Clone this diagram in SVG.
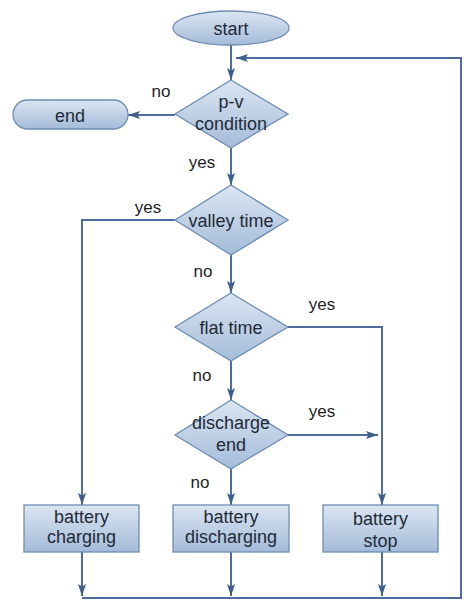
<svg xmlns="http://www.w3.org/2000/svg" width="474" height="611" viewBox="0 0 474 611">
  <defs>
    <linearGradient id="fillNode" x1="0" y1="0" x2="0" y2="1">
      <stop offset="0" stop-color="#dce6f2"/>
      <stop offset="1" stop-color="#a3bbd9"/>
    </linearGradient>
    <marker id="arrow" markerWidth="12" markerHeight="8" refX="12" refY="4" orient="auto" markerUnits="userSpaceOnUse">
      <path d="M0,0 L12,4 L0,8 L2.5,4 Z" fill="#3e5f8e"/>
    </marker>
  </defs>
  <style>
    .node { fill: url(#fillNode); stroke: #6f8db3; stroke-width: 1.3; }
    .txt { font-family: "Liberation Sans", Arial, sans-serif; font-size: 18px; fill: #222a38; text-anchor: middle; }
    .lbl { font-family: "Liberation Sans", Arial, sans-serif; font-size: 17px; fill: #1e1e1e; text-anchor: middle; }
    .wire { fill: none; stroke: #4f6d9c; stroke-width: 2; }
  </style>
  <rect width="474" height="611" fill="#ffffff"/>

  <!-- connectors -->
  <g id="connectors">
    <path class="wire" d="M231,45 V80" marker-end="url(#arrow)"/>
    <path class="wire" d="M175,115 H128" marker-end="url(#arrow)"/>
    <path class="wire" d="M231,148 V185" marker-end="url(#arrow)"/>
    <path class="wire" d="M175,220 H82 V505" marker-end="url(#arrow)"/>
    <path class="wire" d="M231,255 V293" marker-end="url(#arrow)"/>
    <path class="wire" d="M288,327 H382 V505" marker-end="url(#arrow)"/>
    <path class="wire" d="M231,361 V400" marker-end="url(#arrow)"/>
    <path class="wire" d="M288,435 H378" marker-end="url(#arrow)"/>
    <path class="wire" d="M231,469 V505" marker-end="url(#arrow)"/>
    <path class="wire" d="M82,552 V596" marker-end="url(#arrow)"/>
    <path class="wire" d="M231,552 V596" marker-end="url(#arrow)"/>
    <path class="wire" d="M382,552 V596" marker-end="url(#arrow)"/>
    <path class="wire" d="M82,598 H461 V58 H236" marker-end="url(#arrow)"/>
    <text class="lbl" x="161" y="97">no</text>
    <text class="lbl" x="202" y="168">yes</text>
    <text class="lbl" x="148" y="213">yes</text>
    <text class="lbl" x="203" y="277">no</text>
    <text class="lbl" x="322" y="310">yes</text>
    <text class="lbl" x="202" y="381">no</text>
    <text class="lbl" x="322" y="417">yes</text>
    <text class="lbl" x="200" y="488">no</text>
  </g>

  <g id="start">
    <ellipse class="node" cx="231" cy="28" rx="58" ry="17"/>
    <text class="txt" x="231" y="35">start</text>
  </g>

  <g id="end">
    <rect class="node" x="13" y="100" width="115" height="29" rx="14.5"/>
    <text class="txt" x="70" y="122">end</text>
  </g>

  <g id="pv-condition">
    <polygon class="node" points="231,80 288,114 231,148 175,114"/>
    <text class="txt" x="231" y="108">p-v</text>
    <text class="txt" x="231" y="130">condition</text>
  </g>

  <g id="valley-time">
    <polygon class="node" points="231,185 288,220 231,255 175,220"/>
    <text class="txt" x="231" y="227">valley time</text>
  </g>

  <g id="flat-time">
    <polygon class="node" points="231,293 288,327 231,361 175,327"/>
    <text class="txt" x="231" y="334">flat time</text>
  </g>

  <g id="discharge-end">
    <polygon class="node" points="231,400 288,435 231,469 175,435"/>
    <text class="txt" x="231" y="429">discharge</text>
    <text class="txt" x="231" y="451">end</text>
  </g>

  <g id="battery-charging">
    <rect class="node" x="24" y="505" width="115" height="47"/>
    <text class="txt" x="81.5" y="523">battery</text>
    <text class="txt" x="81.5" y="543">charging</text>
  </g>

  <g id="battery-discharging">
    <rect class="node" x="173" y="505" width="116" height="47"/>
    <text class="txt" x="231" y="523">battery</text>
    <text class="txt" x="231" y="543">discharging</text>
  </g>

  <g id="battery-stop">
    <rect class="node" x="323" y="505" width="115" height="47"/>
    <text class="txt" x="380.5" y="525">battery</text>
    <text class="txt" x="380.5" y="547">stop</text>
  </g>
</svg>
